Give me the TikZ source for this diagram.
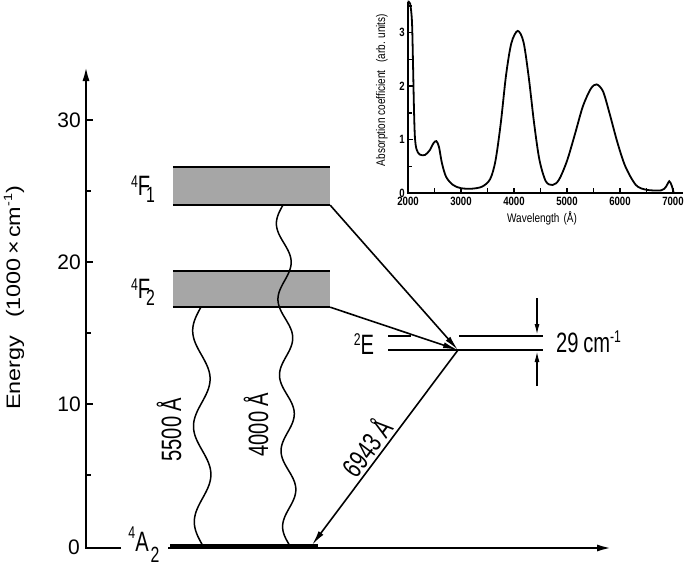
\documentclass[tikz,border=0pt]{standalone}
\usepackage{fontspec}
\setmainfont{Liberation Sans}
\newfontfamily\cond[FakeStretch=0.72]{Liberation Sans}
\newfontfamily\insetfont[FakeStretch=0.8]{Liberation Sans}
\newfontfamily\widefont[FakeStretch=1.2]{Liberation Sans}
\usetikzlibrary{arrows.meta,calc}
\tikzset{
  axisline/.style={line width=2.4pt},
  bigtip/.style={-{Latex[length=15pt,width=7pt]}},
  trans/.style={line width=1.6pt,-{Latex[length=15pt,width=6pt]}},
  smalltip/.style={line width=1.5pt,-{Latex[length=11pt,width=5pt]}},
  band/.style={fill=black!35,draw=none,inner sep=0pt,minimum width=157pt},
  bandedge/.style={line width=2pt},
  level/.style={line width=2.2pt},
  wave/.style={line width=1.5pt},
  biglab/.style={font=\cond\fontsize{28}{30}\selectfont,inner sep=0pt},
  ticklab/.style={font=\fontsize{21}{22}\selectfont,inner sep=0pt,anchor=east},
  insetnum/.style={font=\insetfont\bfseries\fontsize{12}{13}\selectfont,inner sep=0pt},
  insetlab/.style={font=\insetfont\fontsize{12.5}{14}\selectfont,inner sep=0pt},
  curve/.style={line width=1.8pt},
  tick/.style={line width=1.5pt}
}
\begin{document}
\begin{tikzpicture}[x=1pt,y=-1pt]
\useasboundingbox (0,0) rectangle (685,570);

% ---------- main axes ----------
\coordinate (O) at (86,548);
\coordinate (Ytop) at (86,66);
\coordinate (Xa) at (121,548);
\coordinate (Xb) at (168,548);
\coordinate (Xend) at (612,548);
\draw[axisline,bigtip] (Xa) -- (O) -- (Ytop);
\draw[axisline,bigtip] (Xb) -- (Xend);

\foreach \yy/\lab in {120/30,262/20,404/10}{
  \draw[axisline] (86,\yy) -- (93,\yy);
  \node[ticklab] (t\lab) at (81,\yy) {\lab};
}
\node[ticklab] (t0) at (80,547) {0};
\foreach \yy in {191,333,475}{ \draw[tick] (86,\yy) -- (91,\yy); }

\node[rotate=90,inner sep=0pt,font=\widefont\fontsize{19.5}{20}\selectfont] (elab) at (14,298)
  {Energy\hspace{18pt}(1000\,×\,cm\raisebox{8pt}{\fontsize{12}{12}\selectfont -1})};

% ---------- bands ----------
\node[band,minimum height=38pt] (F1) at (251.5,186) {};
\node[band,minimum height=36pt] (F2) at (251.5,289) {};
\draw[bandedge] (F1.north west) -- (F1.north east);
\draw[bandedge] (F1.south west) -- (F1.south east);
\draw[bandedge] (F2.north west) -- (F2.north east);
\draw[bandedge] (F2.south west) -- (F2.south east);

\node[biglab] (lF1) at (143,189) {\raisebox{8pt}{\fontsize{17}{17}\selectfont 4}F\kern-4pt\raisebox{-7pt}{\fontsize{22}{22}\selectfont 1}};
\node[biglab] (lF2) at (143,292) {\raisebox{8pt}{\fontsize{17}{17}\selectfont 4}F\kern-4pt\raisebox{-7pt}{\fontsize{22}{22}\selectfont 2}};
\node[biglab] (lA2) at (144,545) {\raisebox{13pt}{\fontsize{17}{17}\selectfont 4}A\kern2pt\raisebox{-11pt}{\fontsize{22}{22}\selectfont 2}};

% ---------- ground level ----------
\coordinate (g1) at (170,546);
\coordinate (g2) at (318,546);
\draw[line width=4.5pt] (g1) -- (g2);

% ---------- 2E levels ----------
\coordinate (Econv) at (458,350);
\coordinate (Eu1) at (388,336);
\coordinate (Eu2) at (411,336);
\coordinate (Eu3) at (459,336);
\coordinate (Eu4) at (543,336);
\coordinate (El1) at (388,350);
\coordinate (El2) at (543,350);
\draw[level] (Eu1) -- (Eu2);
\draw[level] (Eu3) -- (Eu4);
\draw[level] (El1) -- (El2);
\node[biglab] (lE) at (364,344) {\raisebox{9pt}{\fontsize{17}{17}\selectfont 2}E};

% splitting arrows
\coordinate (sa1) at (537,298);
\coordinate (sa2) at (537,335);
\coordinate (sb1) at (537,386);
\coordinate (sb2) at (537,351);
\draw[smalltip] (sa1) -- (sa2);
\draw[smalltip] (sb1) -- (sb2);
\node[biglab,anchor=west] (split) at (556,342) {29\,cm\raisebox{10pt}{\fontsize{17}{17}\selectfont -1}};

% ---------- transitions ----------
\draw[trans] (F1.south east) -- (Econv);
\draw[trans] (F2.south east) -- (Econv);
\coordinate (gA) at (312,545);
\draw[trans] (Econv) -- (gA);
\node[biglab,rotate=53] (l6943) at (366,447) {6943\,Å};

% wavy absorption lines
\coordinate (w1s) at (201,307);
\coordinate (w1e) at (203,546);
\coordinate (w2s) at (283,205);
\coordinate (w2e) at (290,546);
\draw[wave] let \p1=(w1s), \p2=(w1e) in
  plot[domain=0:1,samples=160,variable=\t]
  ({\x1+(\x2-\x1)*\t-8.5pt*sin(360*2.5*\t)},{\y1+(\y2-\y1)*\t});
\draw[wave] let \p1=(w2s), \p2=(w2e) in
  plot[domain=0:1,samples=200,variable=\t]
  ({\x1+(\x2-\x1)*\t-7pt*sin(360*4.5*\t)},{\y1+(\y2-\y1)*\t});
\node[biglab,rotate=90] (l5500) at (169,430) {5500\,Å};
\node[biglab,rotate=90] (l4000) at (256,425) {4000\,Å};

% ---------- inset spectrum ----------
\coordinate (IO) at (408,193);
\coordinate (Itop) at (408,2);
\coordinate (Iend) at (683,193);
\draw[axisline] (Itop) -- (IO) -- (Iend);
\begin{scope}[shift={(408,193)},x=0.053pt,y=53.5pt]
  \foreach \v in {1,2,3}{ \draw[tick] (0,\v) -- ([xshift=5pt]0,\v);
     \node[insetnum,anchor=east] (iy\v) at ([xshift=-3pt]0,\v) {\v}; }
  \node[insetnum,anchor=east] (iy0) at ([xshift=-3pt]0,0) {0};
  \foreach \v in {0.5,1.5,2.5,3.5}{ \draw[tick] (0,\v) -- ([xshift=4pt]0,\v); }
  \foreach \l in {500,1000,...,5000}{ \draw[tick] (\l,0) -- ([yshift=5pt]\l,0); }
  \foreach \l/\n in {0/2000,1000/3000,2000/4000,3000/5000,4000/6000,5000/7000}{
     \node[insetnum,anchor=north] (ix\n) at ([yshift=-4pt]\l,0) {\n}; }
  \draw[curve] plot[smooth,tension=0.5] coordinates {
    (-8,3.58) (40,3.54) (75,3.2) (95,2.4) (112,1.6) (130,1.05) (160,0.82)
    (220,0.72) (320,0.71) (410,0.8) (480,0.93) (535,0.97) (585,0.86)
    (640,0.56) (720,0.3) (850,0.15) (1000,0.09) (1200,0.08) (1400,0.12)
    (1550,0.26) (1650,0.6) (1750,1.3) (1850,2.2) (1950,2.8) (2070,3.03)
    (2180,2.82) (2280,2.15) (2380,1.3) (2480,0.62) (2600,0.22) (2730,0.15)
    (2850,0.25) (3000,0.6) (3150,1.1) (3300,1.62) (3450,1.95) (3560,2.03)
    (3680,1.9) (3800,1.5) (3950,0.95) (4100,0.5) (4300,0.15) (4500,0.06)
    (4780,0.05) (4870,0.12) (4930,0.22) (4975,0.14) (5010,0.02)};
\end{scope}
\node[insetlab,rotate=90] (iylab) at (382,90) {Absorption coefficient\hspace{8pt}(arb. units)};
\node[insetlab] (ixlab) at (542,218) {Wavelength\hspace{4pt}(Å)};

\end{tikzpicture}
\end{document}
